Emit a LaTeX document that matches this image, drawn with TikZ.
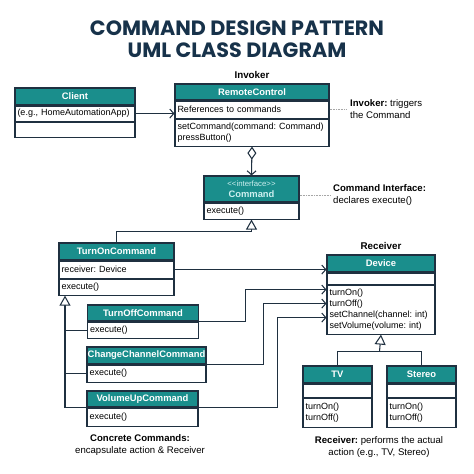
\documentclass[tikz,border=0pt]{standalone}
\usepackage{fontspec}
\setmainfont{Liberation Sans}
\newfontfamily\titlefont{Poppins}
\usetikzlibrary{positioning, arrows.meta, calc}
\frenchspacing

\definecolor{umlteal}{HTML}{1A8E8C}
\definecolor{umlline}{HTML}{1F3040}
\definecolor{umltitle}{HTML}{17324A}
\definecolor{umlsoft}{HTML}{CDEFEF}

\tikzset{
  hdr/.style={draw=umlline, fill=umlteal, text=white, font=\fontsize{9.4}{10.5}\selectfont\bfseries,
    minimum width=#1, minimum height=17pt, inner sep=0pt, line width=1.05pt},
  fld/.style={draw=umlline, fill=white, text width=#1-5pt, inner xsep=2.5pt, inner ysep=1pt,
    align=left, font=\fontsize{9}{10.9}\selectfont, line width=1.05pt},
  lbl/.style={font=\fontsize{9.8}{11}\selectfont\bfseries},
  note/.style={font=\fontsize{9.6}{11.8}\selectfont, align=left, inner sep=3pt},
  dotline/.style={densely dotted, gray!70, line width=0.6pt},
  assoc/.style={draw=umlline, line width=1.05pt, -{Straight Barb[length=4pt, width=9pt, line width=1.05pt]}},
  inherit/.style={draw=umlline, line width=1.05pt, -{Triangle[open, length=10pt, width=11pt, fill=white]}},
  plain/.style={draw=umlline, line width=1.05pt},
}

\begin{document}
\begin{tikzpicture}[x=1pt, y=-1pt]
  \useasboundingbox (0,0) rectangle (474,474);

  % title
  \node[text=umltitle, align=center, font=\titlefont\fontsize{20.7}{22.5}\selectfont\bfseries] (title) at (237,39)
    {COMMAND DESIGN PATTERN\\UML CLASS DIAGRAM};

  % client
  \node[hdr=120pt] (cl) at (75,96.5) {Client};
  \node[fld=120pt, minimum height=15pt, below=0pt of cl] (cl-f) {(e.g., HomeAutomationApp)};
  \node[fld=120pt, minimum height=15pt, below=0pt of cl-f] (cl-m) {};

  % invoker
  \node[hdr=154pt, minimum height=16pt] (rc) at (252,92) {RemoteControl};
  \node[lbl, above=1pt of rc] (invoker) {Invoker};
  \node[fld=154pt, minimum height=17pt, below=0pt of rc] (rc-f) {References to commands};
  \node[fld=154pt, minimum height=27pt, below=0pt of rc-f] (rc-m) {setCommand(command: Command)\\pressButton()};
  \node[note, anchor=west] (invnote) at (347,109) {\textbf{Invoker:} triggers\\the Command};

  % command interface
  \node[hdr=95pt, minimum height=26pt, align=center] (cmd) at (251.5,189)
    {{\color{umlsoft}\mdseries\fontsize{7.8}{8.8}\selectfont<{}<interface>{}>}\\\color{umlsoft}Command};
  \node[fld=95pt, minimum height=16pt, below=0pt of cmd] (cmd-m) {execute()};
  \node[note, anchor=west] (cmdnote) at (330,195) {\textbf{Command Interface:}\\declares execute()};

  % concrete commands
  \node[hdr=115pt] (ton) at (116.5,251.5) {TurnOnCommand};
  \node[fld=115pt, minimum height=17pt, below=0pt of ton] (ton-f) {receiver: Device};
  \node[fld=115pt, minimum height=16pt, below=0pt of ton-f] (ton-m) {execute()};

  \node[hdr=111pt, minimum height=16pt] (off) at (143,313) {TurnOffCommand};
  \node[fld=111pt, minimum height=16pt, below=0pt of off] (off-m) {execute()};

  \node[hdr=119pt] (chg) at (146.5,355.5) {ChangeChannelCommand};
  \node[fld=119pt, minimum height=17pt, below=0pt of chg] (chg-m) {execute()};

  \node[hdr=111pt, minimum height=16pt] (vol) at (142.5,399) {VolumeUpCommand};
  \node[fld=111pt, minimum height=18pt, below=0pt of vol] (vol-m) {execute()};

  \node[note, align=center] (ccnote) at (140,445) {\textbf{Concrete Commands:}\\encapsulate action \& Receiver};

  % receiver
  \node[hdr=108pt] (dev) at (381,263.5) {Device};
  \node[lbl, above=1pt of dev] (receiver) {Receiver};
  \node[fld=108pt, minimum height=11pt, below=0pt of dev] (dev-f) {};
  \node[fld=108pt, minimum height=49pt, below=0pt of dev-f] (dev-m)
    {turnOn()\\turnOff()\\setChannel(channel: int)\\setVolume(volume: int)};

  \node[hdr=69pt] (tv) at (337.5,374.5) {TV};
  \node[fld=69pt, minimum height=13pt, below=0pt of tv] (tv-f) {};
  \node[fld=69pt, minimum height=29pt, below=0pt of tv-f] (tv-m) {turnOn()\\turnOff()};

  \node[hdr=69pt] (st) at (421.5,374.5) {Stereo};
  \node[fld=69pt, minimum height=13pt, below=0pt of st] (st-f) {};
  \node[fld=69pt, minimum height=29pt, below=0pt of st-f] (st-m) {turnOn()\\turnOff()};

  \node[note, align=center] (rcvnote) at (379,447) {\textbf{Receiver:} performs the actual\\action (e.g., TV, Stereo)};

  % connectors
  \draw[assoc] (cl-f.east) -- (cl-f.east -| rc-f.west);
  \draw[dotline] (rc-f.east) -- (invnote.west |- rc-f.east);
  \draw[dotline] (cmd.east |- cmdnote.west) -- (cmdnote.west);
  \draw[plain, {Diamond[open, length=13pt, width=9pt, fill=white]}-{Straight Barb[length=4pt, width=9pt, line width=1.05pt]}]
    (rc-m.south) -- (cmd.north);

  \draw[inherit] (ton.north) -- ++(0,-11) -| (cmd-m.south);

  \coordinate (tk) at (65,0);
  \draw[inherit] (vol.south west) -| (tk |- ton-m.south);
  \draw[plain] (off-m.west) -- (tk |- off-m.west);
  \draw[plain] (chg-m.west) -- (tk |- chg-m.west);

  \draw[assoc] (ton-f.east) -- (ton-f.east -| dev.west);
  \draw[assoc] (off.south east) -| ($(dev-m.north west)+(-81,5)$) -- ($(dev-m.north west)+(0,5)$);
  \draw[assoc] (chg.south east) -| ($(dev-m.north west)+(-63,19)$) -- ($(dev-m.north west)+(0,19)$);
  \draw[assoc] (vol.south east) -| ($(dev-m.north west)+(-49,33)$) -- ($(dev-m.north west)+(0,33)$);

  \draw[plain] (tv.north) -- ++(0,-14) -| (st.north);
  \draw[inherit] ($(tv.north)!0.5!(st.north)+(0,-14)$) -- (dev-m.south);
\end{tikzpicture}
\end{document}
